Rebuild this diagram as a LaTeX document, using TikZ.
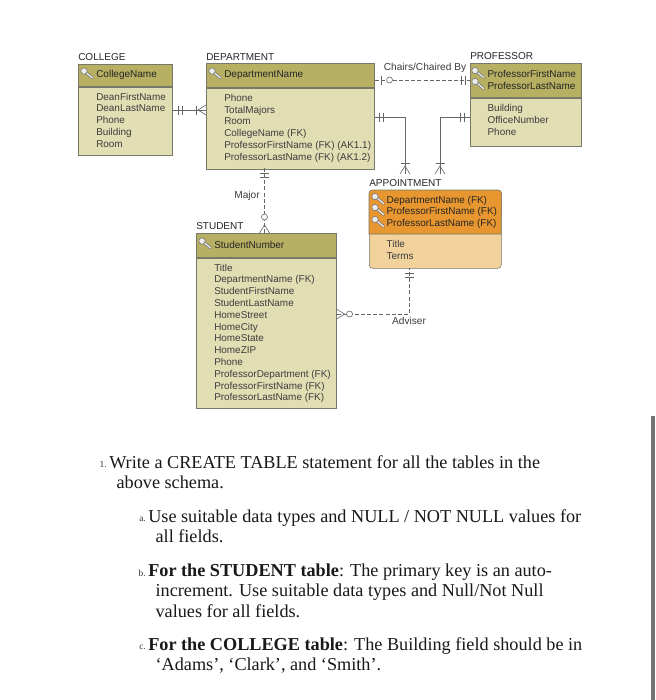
\documentclass[tikz,border=0pt]{standalone}
\usepackage{fontspec}
\setmainfont{Liberation Sans}
\newfontfamily\serifdoc{Liberation Serif}
\usetikzlibrary{positioning}
\definecolor{olivehead}{HTML}{B7AF62}
\definecolor{olivebody}{HTML}{E2DEB4}
\definecolor{orangehead}{HTML}{E8962F}
\definecolor{orangebody}{HTML}{F2D29C}
\definecolor{edgegray}{HTML}{77776A}
\definecolor{inkgray}{HTML}{3C3C3C}

\begin{document}
\begin{tikzpicture}[
  x=0.75pt, y=-0.75pt,
  enthead/.style={draw=edgegray, fill=olivehead, anchor=north west, inner sep=0pt},
  entbody/.style={draw=edgegray, fill=olivebody, inner sep=0pt},
  keytext/.style={font=\fontsize{7.5}{8.8}\selectfont, text=black!85, inner sep=0pt},
  fields/.style={font=\fontsize{7.45}{8.85}\selectfont, text=inkgray, align=left, inner sep=0pt},
  lbl/.style={font=\fontsize{7.6}{8}\selectfont, text=inkgray, inner sep=0pt},
  ln/.style={draw=black!60, line width=0.45pt},
  dashln/.style={ln, dash pattern=on 3pt off 1.6pt},
  doc/.style={font=\serifdoc\fontsize{13.66}{15.4}\selectfont, align=left, anchor=north west, inner sep=0pt, text=black!90},
  num/.style={font=\serifdoc\fontsize{7}{8}\selectfont, anchor=base east, inner sep=0pt, text=black!80},
  onebar/.pic={\draw[ln] (0,-4.5) -- (0,4.5);},
  twobars/.pic={\draw[ln] (-2.2,-4.5) -- (-2.2,4.5) (2.2,-4.5) -- (2.2,4.5);},
  ring/.pic={\draw[ln, fill=white] (0,0) circle (3);},
  crow/.pic={\draw[ln] (0,-5) -- (-8,0) -- (0,5);},
  keyicon/.pic={
    \draw[black!55, line width=2pt, line cap=round] (-1.5,-1.5) -- (5.5,4.5);
    \draw[black!8, line width=1pt, line cap=round] (-1.5,-1.5) -- (5.5,4.5);
    \draw[black!55, fill=black!8, line width=0.4pt] (-3,-2.5) circle (3.2);
  }
]
  \useasboundingbox (0,0) rectangle (656,700);
  \fill[white] (0,0) rectangle (656,700);

  % COLLEGE
  \node[enthead, minimum width=70.5pt, minimum height=16.5pt] (collegehead) at (78,64) {};
  \node[entbody, minimum width=70.5pt, minimum height=51.5pt, below=0pt of collegehead] (collegebody) {};
  \node[keytext, above=2pt of collegehead.north west, anchor=south west] (collegetitle) {COLLEGE};
  \node[keytext, right=13.5pt of collegehead.west] (collegekey) {CollegeName};
  \node[fields, below right=4.6pt and 13.5pt of collegebody.north west] (collegefields) {DeanFirstName\\DeanLastName\\Phone\\Building\\Room};
  \path (87,73.5) pic {keyicon};

  % DEPARTMENT
  \node[enthead, minimum width=126pt, minimum height=18pt] (depthead) at (206,63) {};
  \node[entbody, minimum width=126pt, minimum height=61pt, below=0pt of depthead] (deptbody) {};
  \node[keytext, above=2pt of depthead.north west, anchor=south west] (depttitle) {DEPARTMENT};
  \node[keytext, right=13.5pt of depthead.west] (deptkey) {DepartmentName};
  \node[fields, below right=4.8pt and 13.5pt of deptbody.north west] (deptfields) {Phone\\TotalMajors\\Room\\CollegeName (FK)\\ProfessorFirstName (FK) (AK1.1)\\ProfessorLastName (FK) (AK1.2)};
  \path (215,73.5) pic {keyicon};

  % PROFESSOR
  \node[enthead, minimum width=83.5pt, minimum height=25.5pt] (profhead) at (470,63) {};
  \node[entbody, minimum width=83.5pt, minimum height=36pt, below=0pt of profhead] (profbody) {};
  \node[keytext, above=2pt of profhead.north west, anchor=south west] (proftitle) {PROFESSOR};
  \node[fields, text=black!85, right=13pt of profhead.west] (profkey) {ProfessorFirstName\\ProfessorLastName};
  \node[fields, below right=5pt and 13pt of profbody.north west] (proffields) {Building\\OfficeNumber\\Phone};
  \path (478,73) pic {keyicon};
  \path (478,84) pic {keyicon};

  % APPOINTMENT
  \node[draw=edgegray, fill=orangebody, rounded corners=2.5pt, minimum width=99pt, minimum height=58.5pt, inner sep=0pt, anchor=north west] (apptbody) at (369,190) {};
  \coordinate (apptsplitw) at (369,234);
  \coordinate (apptsplite) at (501,234);
  \draw[edgegray, fill=orangehead] (apptsplitw) [rounded corners=2.5pt] -- (apptbody.north west) -- (apptbody.north east) [sharp corners] -- (apptsplite) -- cycle;
  \node[keytext, above=2pt of apptbody.north west, anchor=south west] (appttitle) {APPOINTMENT};
  \node[fields, text=black!85, below right=4.2pt and 13pt of apptbody.north west] (apptkey) {DepartmentName (FK)\\ProfessorFirstName (FK)\\ProfessorLastName (FK)};
  \node[fields, below right=4.8pt and 13pt of apptsplitw] (apptfields) {Title\\Terms};
  \path (378,199) pic {keyicon};
  \path (378,210) pic {keyicon};
  \path (378,222) pic {keyicon};

  % STUDENT
  \node[enthead, minimum width=105pt, minimum height=18pt] (studhead) at (196,233) {};
  \node[entbody, minimum width=105pt, minimum height=112.5pt, below=0pt of studhead] (studbody) {};
  \node[keytext, above=2pt of studhead.north west, anchor=south west] (studtitle) {STUDENT};
  \node[keytext, right=13.5pt of studhead.west] (studkey) {StudentNumber};
  \node[fields, below right=4.6pt and 13.5pt of studbody.north west] (studfields) {Title\\DepartmentName (FK)\\StudentFirstName\\StudentLastName\\HomeStreet\\HomeCity\\HomeState\\HomeZIP\\Phone\\ProfessorDepartment (FK)\\ProfessorFirstName (FK)\\ProfessorLastName (FK)};
  \path (205,243.5) pic {keyicon};

  % connector ends
  \coordinate (collegeout) at (collegebody.east |- 0,110);
  \coordinate (deptin) at (deptbody.west |- 0,110);
  \coordinate (deptmajor) at (264.5,168);
  \coordinate (studmajor) at (264.5,233);
  \coordinate (deptchair) at (depthead.east |- 0,80);
  \coordinate (profchair) at (profhead.west |- 0,80);
  \coordinate (deptappt) at (deptbody.east |- 0,117);
  \coordinate (apptleft) at (405,174);
  \coordinate (profappt) at (profbody.west |- 0,117);
  \coordinate (apptright) at (440,174);
  \coordinate (studadv) at (studbody.east |- 0,314);
  \coordinate (apptadv) at (409,268);

  \draw[ln] (collegeout) -- (deptin);
  \draw[dashln] (deptmajor) -- (studmajor);
  \draw[dashln] (deptchair) -- (profchair);
  \draw[ln] (deptappt) -| (apptleft);
  \draw[ln] (profappt) -| (apptright);
  \draw[dashln] (studadv) -| (apptadv);

  \path (collegeout) ++(8,0) pic {twobars};
  \path (deptin) ++(-10,0) pic {onebar};
  \path (deptin) pic {crow};
  \path (deptmajor) ++(0,7.5) pic[rotate=90] {twobars};
  \path (studmajor) ++(0,-16) pic {ring};
  \path (studmajor) pic[rotate=-90] {crow};
  \path (deptchair) ++(7,0) pic {onebar};
  \path (deptchair) ++(15,0) pic {ring};
  \path (profchair) ++(-7,0) pic {twobars};
  \path (deptappt) ++(7,0) pic {twobars};
  \path (profappt) ++(-8,0) pic {twobars};
  \path (apptleft) ++(0,-11) pic[rotate=90] {onebar};
  \path (apptleft) pic[rotate=-90] {crow};
  \path (apptright) ++(0,-11) pic[rotate=90] {onebar};
  \path (apptright) pic[rotate=-90] {crow};
  \path (apptadv) ++(0,7) pic[rotate=90] {twobars};
  \path (studadv) pic[rotate=180] {crow};
  \path (studadv) ++(13,0) pic {ring};

  \node[lbl] (chairslbl) at (425,68) {Chairs/Chaired By};
  \node[lbl] (majorlbl) at (247,196) {Major};
  \node[lbl] (adviserlbl) at (409,321) {Adviser};

  % questions
  \node[doc] (q1) at (109,455) {Write a CREATE TABLE statement for all the tables in the\\\hspace*{5.5pt}above schema.};
  \node[num] (n1) at ([xshift=-1.5pt,yshift=-9.5pt]q1.north west) {1.};
  \node[doc] (qa) at (148,509) {Use suitable data types and NULL / NOT NULL values for\\\hspace*{5.5pt}all fields.};
  \node[num] (na) at ([xshift=-1.5pt,yshift=-9.5pt]qa.north west) {a.};
  \node[doc] (qb) at (148,563.5) {\textbf{For the STUDENT table}: The primary key is an auto-\\\hspace*{5.5pt}increment. Use suitable data types and Null/Not Null\\\hspace*{5.5pt}values for all fields.};
  \node[num] (nb) at ([xshift=-1.5pt,yshift=-9.5pt]qb.north west) {b.};
  \node[doc] (qc) at (148,637) {\textbf{For the COLLEGE table}: The Building field should be in\\\hspace*{5.5pt}‘Adams’, ‘Clark’, and ‘Smith’.};
  \node[num] (nc) at ([xshift=-1.5pt,yshift=-9.5pt]qc.north west) {c.};

  % scrollbar
  \fill[black!55] (651,416) rectangle (655,700);
\end{tikzpicture}
\end{document}
